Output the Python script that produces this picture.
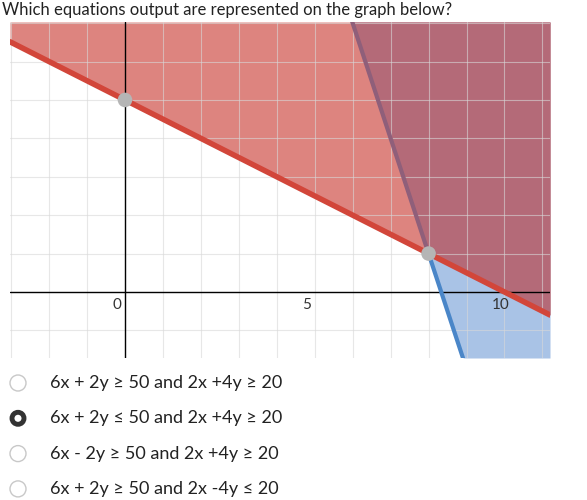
import numpy as np, pandas as pd, matplotlib
matplotlib.use("Agg")
import matplotlib.pyplot as plt, seaborn as sns
from matplotlib.patches import Circle

sns.set_style("white")
plt.rcParams['font.family'] = ['Lato', 'DejaVu Sans']

title = "Which equations output are represented on the graph below?"
options = ["6x + 2y \u2265 50 and 2x +4y \u2265 20",
           "6x + 2y \u2264 50 and 2x +4y \u2265 20",
           "6x - 2y \u2265 50 and 2x +4y \u2265 20",
           "6x + 2y \u2265 50 and 2x -4y \u2264 20"]
selected = 1
xticks = [0, 5, 10]
points_x = [0, 8]
points_y = [5, 1]
xmin, xmax, ymin, ymax = -3.03, 11.2, -1.72, 7.03

fig = plt.figure(figsize=(5.87, 5.0), dpi=100)
bg = fig.add_axes([0, 0, 1, 1]); bg.set_xlim(0, 587); bg.set_ylim(500, 0); bg.axis('off')
ax = fig.add_axes([10/587, 1-358/500, 540/587, 336/500])

xs = np.linspace(xmin, xmax, 800)
red_y = 5 - xs/2
blue_y = 25 - 3*xs
ax.fill_between(xs, np.clip(blue_y, ymin, ymax), ymax, color="#a9c3e6", lw=0, zorder=1)
ax.fill_between(xs, red_y, ymax, color="#d86e69", alpha=0.85, lw=0, zorder=2)
m = xs >= 6
ax.fill_between(xs[m], np.clip(np.maximum(red_y[m], blue_y[m]), ymin, ymax), ymax,
                color="#b46a78", lw=0, zorder=2.5)

for v in range(-3, 12):
    ax.axvline(v, color="#d8d8d8", lw=0.8, alpha=0.6, zorder=3)
for v in range(-1, 8):
    ax.axhline(v, color="#d8d8d8", lw=0.8, alpha=0.6, zorder=3)
ax.axvline(0, color="black", lw=1, zorder=4)
ax.axhline(0, color="black", lw=1, zorder=4)

bx = np.linspace(8, xmax, 50)
sns.lineplot(x=bx, y=25 - 3*bx, color="#4a86c8", lw=3, ax=ax, zorder=5)
bx2 = np.linspace(5.5, 8, 20)
sns.lineplot(x=bx2, y=25 - 3*bx2, color="#8f5f7a", lw=3, ax=ax, zorder=5)
sns.lineplot(x=xs, y=red_y, color="#d2463a", lw=4, ax=ax, zorder=6)
sns.scatterplot(x=points_x, y=points_y, color="#b5b5b5", s=110, edgecolor="none", ax=ax, zorder=7)
for t in xticks:
    ax.text(t - 0.1, -0.15, str(t), ha="right" if t != 10 else "center", va="top", fontsize=11, color="#333", zorder=8)
ax.set_xlim(xmin, xmax); ax.set_ylim(ymin, ymax)
ax.set_xticks([]); ax.set_yticks([])
for s in ax.spines.values(): s.set_visible(False)

bg.text(2, 10, title, fontsize=12, va="center", ha="left", color="#222")
for i, o in enumerate(options):
    y = 383 + i*35.3
    if i == selected:
        bg.add_patch(Circle((18, y), 6, fc="white", ec="#333", lw=3.5))
    else:
        bg.add_patch(Circle((18, y), 8, fill=False, ec="#c8c8c8", lw=1))
    bg.text(50, y, o, fontsize=13, va="center", ha="left", color="#222")
fig.savefig("out.png", dpi=100)
